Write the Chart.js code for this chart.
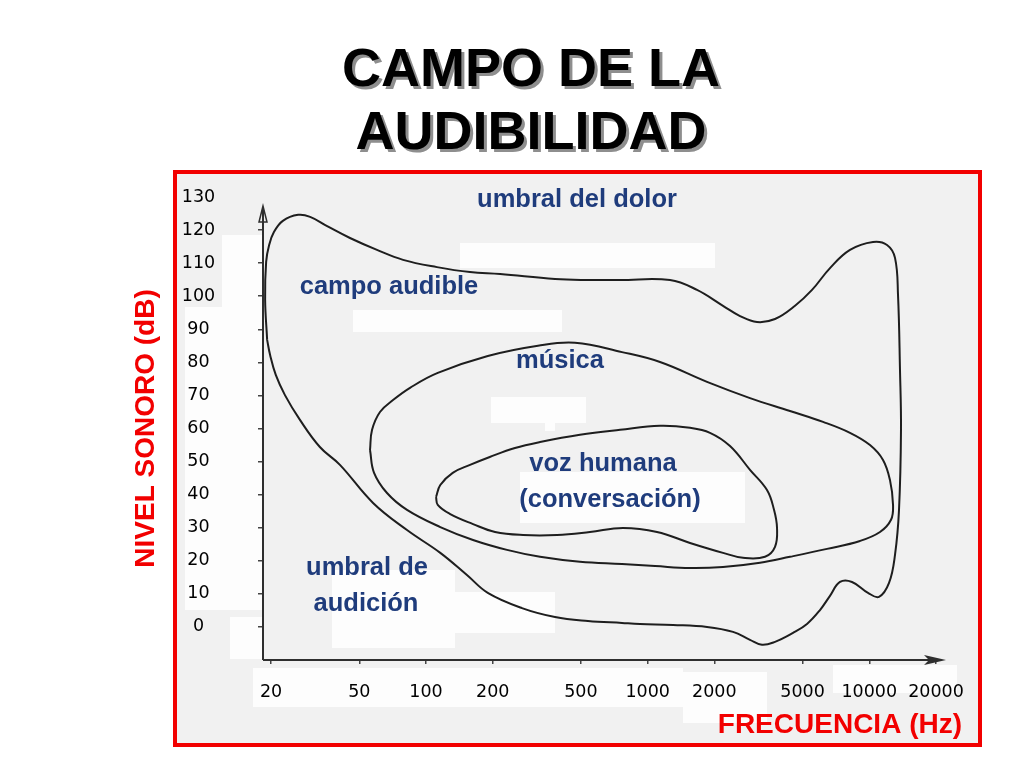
<!DOCTYPE html>
<html>
<head>
<meta charset="utf-8">
<script src="https://cdn.jsdelivr.net/npm/chart.js@4.4.0/dist/chart.umd.min.js"></script>
<style>
html,body{margin:0;padding:0;background:#fff;}
#wrap{width:1024px;height:768px;position:relative;}
</style>
</head>
<body>
<div id="wrap"><canvas id="c"></canvas></div>
<script>
// ---- data (frequency in Hz, level in dB) ----
const outerFreq = [19.2, 18.8, 19.0, 19.6, 20.6, 22.6, 26.5, 30.0, 35.8, 45.4, 60.1, 78.8, 112, 158, 216, 382, 538, 751, 1262, 1670, 2188, 2611, 3114, 3755, 4623, 5516, 6648, 8183, 10394, 12024, 13063, 13477, 13757, 13901, 13617, 13063, 12276, 11063, 9868, 8357, 7376, 6648, 5993, 5236, 4528, 3755, 3281, 2896, 2428, 1853, 1302, 924, 766, 538, 382, 271, 190, 153, 116, 82.1, 57.7, 40.9, 33.2, 27.0, 23.1, 21.0, 19.8, 19.2];
const outerLevel = [86.8, 98.9, 110.4, 115.5, 119.4, 122.8, 124.6, 124.0, 121.2, 117.6, 114.0, 111.0, 108.8, 107.3, 106.7, 105.2, 104.9, 104.9, 104.9, 101.9, 97.1, 94.0, 92.2, 93.1, 97.1, 101.9, 108.5, 114.0, 116.4, 115.5, 111.6, 100.4, 77.7, 59.6, 35.4, 21.8, 13.3, 9.1, 10.3, 13.6, 13.6, 9.4, 5.1, 0.9, -1.8, -4.5, -5.4, -3.9, -1.5, 0, 0.6, 0.9, 1.2, 1.8, 3.0, 5.7, 10.3, 15.7, 22.4, 29.3, 37.5, 49.0, 54.4, 62.6, 70.1, 76.2, 82.2, 86.8];

const musicFreq = [55.9, 57.1, 62.0, 71.0, 84.7, 113, 190, 320, 470, 766, 1137, 1853, 2896, 4388, 6186, 8183, 10074, 11533, 12400, 12797, 12533, 11177, 9080, 6447, 4388, 3213, 2188, 1553, 1080, 766, 495, 327, 232, 163, 116, 82.1, 66.7, 58.3, 55.9];
const musicLevel = [53.5, 59.6, 65.0, 68.6, 72.3, 76.8, 81.9, 85.0, 85.9, 83.1, 80.1, 74.1, 69.2, 65.3, 62.0, 58.7, 55.0, 50.5, 44.4, 36.9, 32.4, 28.7, 26.0, 23.6, 21.2, 19.4, 18.1, 17.8, 18.4, 19.0, 19.7, 21.2, 23.3, 26.3, 30.2, 35.4, 40.5, 46.6, 53.5];

const voiceFreq = [111, 116, 132, 158, 194, 252, 327, 495, 751, 1137, 1553, 1911, 2353, 2896, 3455, 3717, 3835, 3755, 3384, 2693, 2188, 1553, 1102, 774, 549, 390, 274, 205, 163, 128, 113, 111];
const voiceLevel = [39.3, 42.9, 46.6, 49.0, 51.4, 54.1, 55.9, 58.1, 59.6, 60.8, 60.2, 58.7, 54.7, 47.5, 41.4, 35.4, 29.9, 24.2, 21.2, 20.9, 22.4, 25.4, 28.7, 29.9, 28.7, 27.8, 27.8, 28.7, 31.1, 34.2, 36.9, 39.3];

const xTickValues = [20, 50, 100, 200, 500, 1000, 2000, 5000, 10000, 20000];
const yTickValues = [0, 10, 20, 30, 40, 50, 60, 70, 80, 90, 100, 110, 120, 130];

const labelTexts = ['umbral del dolor', 'campo audible', 'música', 'voz humana', '(conversación)', 'umbral de', 'audición'];
const labelFreqs = [480, 68.1, 402, 629, 676, 54.2, 53.6];
const labelLevels = [129.0, 102.8, 80.4, 49.3, 38.4, 17.8, 7.0];

const titleLines = ['CAMPO DE LA', 'AUDIBILIDAD'];

// ---- helpers ----
function toPoints(xs, ys) { return xs.map((x, i) => ({x: x, y: ys[i]})); }

const TITLE_SIZE = 54, TITLE_LH = 1.1667;

const paperPlugin = {
  id: 'paper',
  beforeDraw(chart) {
    const ctx = chart.ctx;
    ctx.save();
    ctx.fillStyle = '#ffffff';
    ctx.fillRect(0, 0, chart.width, chart.height);
    // scanned paper tone inside the frame
    ctx.fillStyle = '#f1f1f1';
    ctx.fillRect(177, 174, 801, 569);
    // white-out patches of the scan
    ctx.fillStyle = '#fdfdfd';
    [[460,243,255,25],[353,310,209,22],[491,397,95,26],[545,423,10,8],[520,472,225,51],
     [332,570,123,78],[455,592,100,41],[253,668,430,39],[683,672,84,51],[833,665,124,28],
     [222,235,40,72],[185,307,77,303],[230,617,32,42]].forEach(r => ctx.fillRect(r[0], r[1], r[2], r[3]));
    // red frame
    ctx.strokeStyle = '#f20000';
    ctx.lineWidth = 4;
    ctx.strokeRect(175, 172, 805, 573);
    // title shadow
    const tb = chart.titleBlock;
    if (tb) {
      const lh = TITLE_SIZE * TITLE_LH;
      ctx.font = 'bold ' + TITLE_SIZE + 'px "Liberation Sans", Arial, sans-serif';
      ctx.textAlign = 'center';
      ctx.textBaseline = 'middle';
      ctx.fillStyle = '#8e8e8e';
      const cx = (tb.left + tb.right) / 2;
      let y = tb.top + lh / 2;
      titleLines.forEach(t => { ctx.fillText(t, cx + 3, y + 3); y += lh; });
    }
    ctx.restore();
  }
};

const axisPlugin = {
  id: 'axisArrows',
  beforeDatasetsDraw(chart) {
    const ctx = chart.ctx;
    const a = chart.chartArea;
    ctx.save();
    ctx.strokeStyle = '#2e2e2e';
    ctx.fillStyle = '#2e2e2e';
    ctx.lineWidth = 2;
    // vertical axis
    ctx.beginPath();
    ctx.moveTo(a.left, a.bottom);
    ctx.lineTo(a.left, a.top + 12);
    ctx.stroke();
    ctx.lineWidth = 1.5;
    ctx.beginPath();
    ctx.moveTo(a.left, a.top + 9);
    ctx.lineTo(a.left - 4, a.top + 25);
    ctx.lineTo(a.left + 4, a.top + 25);
    ctx.closePath();
    ctx.stroke();
    // horizontal axis
    const xEnd = a.right - 16;
    ctx.lineWidth = 2;
    ctx.beginPath();
    ctx.moveTo(a.left, a.bottom);
    ctx.lineTo(xEnd - 6, a.bottom);
    ctx.stroke();
    ctx.beginPath();
    ctx.moveTo(xEnd, a.bottom);
    ctx.lineTo(xEnd - 22, a.bottom - 5);
    ctx.lineTo(xEnd - 17, a.bottom);
    ctx.lineTo(xEnd - 22, a.bottom + 5);
    ctx.closePath();
    ctx.fill();
    ctx.restore();
  }
};

const labelPlugin = {
  id: 'areaLabels',
  afterDatasetsDraw(chart) {
    const ctx = chart.ctx;
    const xs = chart.scales.x, ys = chart.scales.y;
    ctx.save();
    ctx.font = 'bold 25.5px "Liberation Sans", Arial, sans-serif';
    ctx.fillStyle = '#1f3c7c';
    ctx.textAlign = 'center';
    ctx.textBaseline = 'middle';
    labelTexts.forEach((t, i) => {
      ctx.fillText(t, xs.getPixelForValue(labelFreqs[i]), ys.getPixelForValue(labelLevels[i]));
    });
    ctx.restore();
  }
};

const curveStyle = {
  showLine: true,
  borderColor: '#1e1e1e',
  borderWidth: 2,
  pointRadius: 0,
  pointHoverRadius: 0,
  tension: 0.4,
  fill: false,
  clip: false
};

const tickFont = {family: '"DejaVu Sans", Verdana, sans-serif', size: 17.5};
const redTitleFont = {family: '"Liberation Sans", Arial, sans-serif', size: 28, weight: 'bold'};

new Chart(document.getElementById('c'), {
  type: 'scatter',
  data: {
    datasets: [
      Object.assign({label: 'campo audible', data: toPoints(outerFreq, outerLevel)}, curveStyle),
      Object.assign({label: 'música', data: toPoints(musicFreq, musicLevel)}, curveStyle),
      Object.assign({label: 'voz humana', data: toPoints(voiceFreq, voiceLevel)}, curveStyle)
    ]
  },
  options: {
    responsive: true,
    maintainAspectRatio: false,
    animation: false,
    events: [],
    layout: {padding: {top: 40, left: 100, right: 62, bottom: 0}},
    plugins: {
      legend: {display: false},
      tooltip: {enabled: false},
      title: {
        display: true,
        text: titleLines,
        color: '#000',
        font: {family: '"Liberation Sans", Arial, sans-serif', size: TITLE_SIZE, weight: 'bold', lineHeight: TITLE_LH},
        padding: {top: 0, bottom: 31}
      }
    },
    scales: {
      x: {
        type: 'logarithmic',
        min: 18.39,
        max: 26200,
        afterBuildTicks: s => { s.ticks = xTickValues.map(v => ({value: v})); },
        afterFit: s => { s.height = 108; },
        ticks: {
          autoSkip: false, maxRotation: 0, minRotation: 0,
          callback: v => String(v),
          font: tickFont, color: '#000', padding: 17.5
        },
        grid: {display: true, drawOnChartArea: false, drawTicks: true, tickLength: 4, color: '#444', lineWidth: 1.5},
        border: {display: false},
        title: {display: true, text: 'FRECUENCIA (Hz)', align: 'end', color: '#f20000', font: redTitleFont, padding: {top: 0, bottom: 26}}
      },
      y: {
        type: 'linear',
        min: -10,
        max: 130,
        afterBuildTicks: s => { s.ticks = yTickValues.map(v => ({value: v})); },
        afterFit: s => { s.width = 163; },
        ticks: {
          autoSkip: false, crossAlign: 'center',
          callback: v => String(v),
          font: tickFont, color: '#000', padding: 42.8
        },
        grid: {
          display: true, drawOnChartArea: false, drawTicks: true, tickLength: 5, lineWidth: 1.5,
          color: c => (c.tick && c.tick.value >= 130) ? 'rgba(0,0,0,0)' : '#444'
        },
        border: {display: false},
        title: {display: true, text: 'NIVEL SONORO (dB)', color: '#f20000', font: redTitleFont, padding: {top: 29.2, bottom: 0}}
      }
    }
  },
  plugins: [paperPlugin, axisPlugin, labelPlugin]
});
</script>
</body>
</html>
